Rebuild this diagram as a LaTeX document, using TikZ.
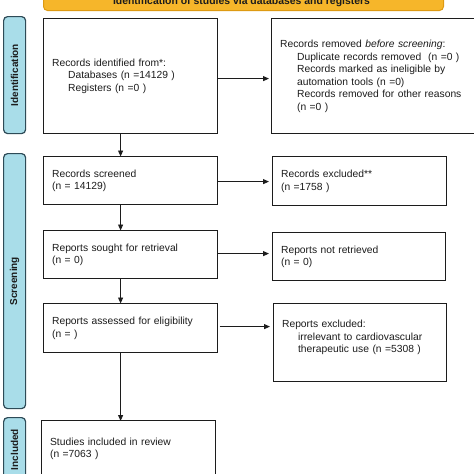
\documentclass[tikz,border=0pt]{standalone}
\usepackage{fontspec}
\setmainfont{Liberation Sans}
\usetikzlibrary{arrows.meta}
\definecolor{hdrfill}{HTML}{F6B62A}
\definecolor{hdrline}{HTML}{DE9A12}
\definecolor{sidefill}{HTML}{A9DDE9}
\definecolor{sideline}{HTML}{2E4B57}
\definecolor{ink}{HTML}{1C1C1C}
\newlength\hdrw
\newcommand\hdrtext{Identification of studies via databases and registers}
\newcommand\hdrfont{\fontsize{10.5}{12}\selectfont\bfseries}
\begin{document}
\settowidth\hdrw{\hdrfont\hdrtext}
\pgfmathsetmacro{\hdrsc}{257/\hdrw}
\begin{tikzpicture}[x=1pt,y=-1pt,
  box/.style={draw=ink,line width=1.2pt,anchor=north west,inner xsep=8.5pt,inner ysep=0pt,
    align=left,font=\fontsize{10.3}{12.5}\selectfont,text=ink},
  side/.style={draw=sideline,fill=sidefill,line width=1.2pt,rounded corners=4pt,anchor=north west,
    minimum width=22pt,inner sep=0pt},
  sidetext/.style={rotate=90,font=\fontsize{10}{12}\selectfont\bfseries,text=ink},
  arr/.style={draw=ink,line width=0.9pt,-{Triangle[length=6pt,width=5pt]}}]
\clip (0,0) rectangle (474,474);
\fill[white] (0,0) rectangle (474,474);
% header
\node[draw=hdrline,fill=hdrfill,line width=1pt,rounded corners=4pt,anchor=south west,
  minimum width=400pt,minimum height=34pt,inner sep=0pt] (hdr) at (43,11) {};
\node[font=\hdrfont,text=ink,anchor=base,inner sep=0pt,xscale=\hdrsc] (hdrt) at (241.5,4.5)
  {\hdrtext};
% side labels
\node[side,minimum height=117pt] (sid) at (3,16) {};
\node[sidetext] at (sid.center) {Identification};
\node[side,minimum height=255pt] (sscr) at (3,153) {};
\node[sidetext] at (sscr.center) {Screening};
\node[side,minimum height=80pt] (sinc) at (3,417) {};
\node[sidetext] at ([yshift=8pt]sinc.center) {Included};
% boxes
\node[box,minimum width=174pt,minimum height=115pt,text width=157pt] (ident) at (43,18)
  {Records identified from*:\\\hspace*{16pt}Databases (n =14129 )\\\hspace*{16pt}Registers (n =0 )};
\node[box,minimum width=203pt,minimum height=115pt,text width=186pt] (removed) at (271,18)
  {Records removed \textit{before screening}:\\
   \hspace*{17pt}Duplicate records removed \ (n =0 )\\
   \hspace*{17pt}Records marked as ineligible by\\
   \hspace*{17pt}automation tools (n =0)\\
   \hspace*{17pt}Records removed for other reasons\\
   \hspace*{17pt}(n =0 )};
\node[box,minimum width=174pt,minimum height=48pt,text width=157pt] (screened) at (43,156)
  {Records screened\\(n = 14129)};
\node[box,minimum width=174pt,minimum height=49pt,text width=157pt] (excl) at (272,156)
  {Records excluded**\\(n =1758 )};
\node[box,minimum width=174pt,minimum height=48pt,text width=157pt] (sought) at (43,230)
  {Reports sought for retrieval\\(n = 0)};
\node[box,minimum width=173pt,minimum height=48pt,text width=156pt] (notret) at (272,232)
  {Reports not retrieved\\(n = 0)};
\node[box,minimum width=174pt,minimum height=49pt,text width=157pt] (assessed) at (43,303)
  {Reports assessed for eligibility\\(n = )};
\node[box,minimum width=173pt,minimum height=78pt,text width=156pt] (repexcl) at (273,303)
  {Reports excluded:\\
   \hspace*{16pt}irrelevant to cardiovascular\\
   \hspace*{16pt}therapeutic use (n =5308 )\\\mbox{}};
\node[box,minimum width=174pt,minimum height=56pt,text width=157pt] (incl) at (41,420)
  {Studies included in review\\(n =7063 )};
% arrows
\draw[arr] ([yshift=-2.5pt]ident.east) -- ([xshift=-2pt,yshift=-2.5pt]ident.east -| removed.west);
\draw[arr] ([yshift=-1pt]screened.east) -- ([xshift=-3pt,yshift=-1pt]screened.east -| excl.west);
\draw[arr] ([yshift=1pt]sought.east) -- ([xshift=-3pt,yshift=1pt]sought.east -| notret.west);
\draw[arr] ([xshift=1.5pt,yshift=1.5pt]assessed.east) -- ([xshift=-3pt,yshift=1.5pt]assessed.east -| repexcl.west);
\draw[arr] ([xshift=-10pt]ident.south) -- ([xshift=-10pt,yshift=-0.5pt]ident.south |- screened.north);
\draw[arr] ([xshift=-10pt]screened.south) -- ([xshift=-10pt,yshift=-0.5pt]screened.south |- sought.north);
\draw[arr] ([xshift=-10pt]sought.south) -- ([xshift=-10pt,yshift=-0.5pt]sought.south |- assessed.north);
\draw[arr] ([xshift=-10pt]assessed.south) -- ([xshift=-10pt,yshift=-1pt]assessed.south |- incl.north);
\end{tikzpicture}
\end{document}
